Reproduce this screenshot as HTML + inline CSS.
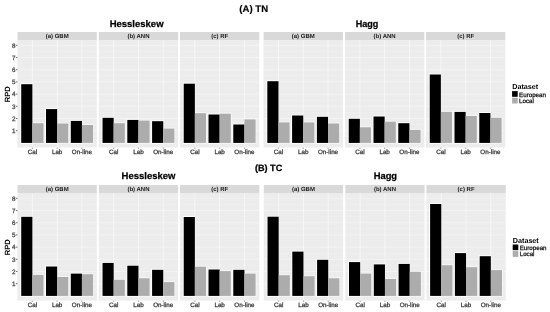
<!DOCTYPE html><html><head><meta charset="utf-8"><style>html,body{margin:0;padding:0;background:#fff;}svg{display:block;}text{font-family:"Liberation Sans",Arial,sans-serif;text-rendering:geometricPrecision;}</style></head><body>
<svg width="550" height="312" viewBox="0 0 550 312">
<defs><filter id="bl" filterUnits="userSpaceOnUse" x="0" y="0" width="550" height="312"><feGaussianBlur stdDeviation="0.3"/></filter></defs>
<g filter="url(#bl)">
<rect width="550" height="312" fill="#fff"/>
<rect x="17.5" y="32.0" width="79.3" height="8.0" fill="#D9D9D9"/>
<text x="57.15" y="38.05" font-size="6.0" font-weight="bold" fill="#1A1A1A" text-anchor="middle">(a) GBM</text>
<rect x="17.5" y="40.0" width="79.3" height="107.50" fill="#ECECEC"/>
<line x1="17.5" x2="96.80" y1="136.80" y2="136.80" stroke="#fff" stroke-width="0.6" stroke-opacity="0.25"/>
<line x1="17.5" x2="96.80" y1="124.60" y2="124.60" stroke="#fff" stroke-width="0.6" stroke-opacity="0.25"/>
<line x1="17.5" x2="96.80" y1="112.40" y2="112.40" stroke="#fff" stroke-width="0.6" stroke-opacity="0.25"/>
<line x1="17.5" x2="96.80" y1="100.20" y2="100.20" stroke="#fff" stroke-width="0.6" stroke-opacity="0.25"/>
<line x1="17.5" x2="96.80" y1="88.00" y2="88.00" stroke="#fff" stroke-width="0.6" stroke-opacity="0.25"/>
<line x1="17.5" x2="96.80" y1="75.80" y2="75.80" stroke="#fff" stroke-width="0.6" stroke-opacity="0.25"/>
<line x1="17.5" x2="96.80" y1="63.60" y2="63.60" stroke="#fff" stroke-width="0.6" stroke-opacity="0.25"/>
<line x1="17.5" x2="96.80" y1="51.40" y2="51.40" stroke="#fff" stroke-width="0.6" stroke-opacity="0.25"/>
<line x1="17.5" x2="96.80" y1="130.70" y2="130.70" stroke="#fff" stroke-width="0.8" stroke-opacity="0.45"/>
<line x1="17.5" x2="96.80" y1="118.50" y2="118.50" stroke="#fff" stroke-width="0.8" stroke-opacity="0.45"/>
<line x1="17.5" x2="96.80" y1="106.30" y2="106.30" stroke="#fff" stroke-width="0.8" stroke-opacity="0.45"/>
<line x1="17.5" x2="96.80" y1="94.10" y2="94.10" stroke="#fff" stroke-width="0.8" stroke-opacity="0.45"/>
<line x1="17.5" x2="96.80" y1="81.90" y2="81.90" stroke="#fff" stroke-width="0.8" stroke-opacity="0.45"/>
<line x1="17.5" x2="96.80" y1="69.70" y2="69.70" stroke="#fff" stroke-width="0.8" stroke-opacity="0.45"/>
<line x1="17.5" x2="96.80" y1="57.50" y2="57.50" stroke="#fff" stroke-width="0.8" stroke-opacity="0.45"/>
<line x1="17.5" x2="96.80" y1="45.30" y2="45.30" stroke="#fff" stroke-width="0.8" stroke-opacity="0.45"/>
<line x1="32.37" x2="32.37" y1="40.0" y2="147.5" stroke="#fff" stroke-width="1.0" stroke-opacity="0.55"/>
<line x1="57.15" x2="57.15" y1="40.0" y2="147.5" stroke="#fff" stroke-width="1.0" stroke-opacity="0.55"/>
<line x1="81.93" x2="81.93" y1="40.0" y2="147.5" stroke="#fff" stroke-width="1.0" stroke-opacity="0.55"/>
<rect x="20.32" y="83.30" width="12.05" height="60.50" fill="#fff"/>
<rect x="32.37" y="122.30" width="12.05" height="21.50" fill="#fff" fill-opacity="0.5"/>
<rect x="21.22" y="84.20" width="11.15" height="58.70" fill="#000"/>
<rect x="32.37" y="123.20" width="11.15" height="19.70" fill="#ACACAC"/>
<rect x="45.10" y="108.20" width="12.05" height="35.60" fill="#fff"/>
<rect x="57.15" y="122.60" width="12.05" height="21.20" fill="#fff" fill-opacity="0.5"/>
<rect x="46.00" y="109.10" width="11.15" height="33.80" fill="#000"/>
<rect x="57.15" y="123.50" width="11.15" height="19.40" fill="#ACACAC"/>
<rect x="69.88" y="120.00" width="12.05" height="23.80" fill="#fff"/>
<rect x="81.93" y="124.10" width="12.05" height="19.70" fill="#fff" fill-opacity="0.5"/>
<rect x="70.78" y="120.90" width="11.15" height="22.00" fill="#000"/>
<rect x="81.93" y="125.00" width="11.15" height="17.90" fill="#ACACAC"/>
<line x1="32.37" x2="32.37" y1="147.5" y2="148.90" stroke="#555" stroke-width="0.5"/>
<text x="32.37" y="154.40" font-size="6.25" fill="#444" stroke="#444" stroke-width="0.3" text-anchor="middle">Cal</text>
<line x1="57.15" x2="57.15" y1="147.5" y2="148.90" stroke="#555" stroke-width="0.5"/>
<text x="57.15" y="154.40" font-size="6.25" fill="#444" stroke="#444" stroke-width="0.3" text-anchor="middle">Lab</text>
<line x1="81.93" x2="81.93" y1="147.5" y2="148.90" stroke="#555" stroke-width="0.5"/>
<text x="81.93" y="154.40" font-size="6.25" fill="#444" stroke="#444" stroke-width="0.3" text-anchor="middle">On-line</text>
<rect x="98.8" y="32.0" width="79.3" height="8.0" fill="#D9D9D9"/>
<text x="138.45" y="38.05" font-size="6.0" font-weight="bold" fill="#1A1A1A" text-anchor="middle">(b) ANN</text>
<rect x="98.8" y="40.0" width="79.3" height="107.50" fill="#ECECEC"/>
<line x1="98.8" x2="178.10" y1="136.80" y2="136.80" stroke="#fff" stroke-width="0.6" stroke-opacity="0.25"/>
<line x1="98.8" x2="178.10" y1="124.60" y2="124.60" stroke="#fff" stroke-width="0.6" stroke-opacity="0.25"/>
<line x1="98.8" x2="178.10" y1="112.40" y2="112.40" stroke="#fff" stroke-width="0.6" stroke-opacity="0.25"/>
<line x1="98.8" x2="178.10" y1="100.20" y2="100.20" stroke="#fff" stroke-width="0.6" stroke-opacity="0.25"/>
<line x1="98.8" x2="178.10" y1="88.00" y2="88.00" stroke="#fff" stroke-width="0.6" stroke-opacity="0.25"/>
<line x1="98.8" x2="178.10" y1="75.80" y2="75.80" stroke="#fff" stroke-width="0.6" stroke-opacity="0.25"/>
<line x1="98.8" x2="178.10" y1="63.60" y2="63.60" stroke="#fff" stroke-width="0.6" stroke-opacity="0.25"/>
<line x1="98.8" x2="178.10" y1="51.40" y2="51.40" stroke="#fff" stroke-width="0.6" stroke-opacity="0.25"/>
<line x1="98.8" x2="178.10" y1="130.70" y2="130.70" stroke="#fff" stroke-width="0.8" stroke-opacity="0.45"/>
<line x1="98.8" x2="178.10" y1="118.50" y2="118.50" stroke="#fff" stroke-width="0.8" stroke-opacity="0.45"/>
<line x1="98.8" x2="178.10" y1="106.30" y2="106.30" stroke="#fff" stroke-width="0.8" stroke-opacity="0.45"/>
<line x1="98.8" x2="178.10" y1="94.10" y2="94.10" stroke="#fff" stroke-width="0.8" stroke-opacity="0.45"/>
<line x1="98.8" x2="178.10" y1="81.90" y2="81.90" stroke="#fff" stroke-width="0.8" stroke-opacity="0.45"/>
<line x1="98.8" x2="178.10" y1="69.70" y2="69.70" stroke="#fff" stroke-width="0.8" stroke-opacity="0.45"/>
<line x1="98.8" x2="178.10" y1="57.50" y2="57.50" stroke="#fff" stroke-width="0.8" stroke-opacity="0.45"/>
<line x1="98.8" x2="178.10" y1="45.30" y2="45.30" stroke="#fff" stroke-width="0.8" stroke-opacity="0.45"/>
<line x1="113.67" x2="113.67" y1="40.0" y2="147.5" stroke="#fff" stroke-width="1.0" stroke-opacity="0.55"/>
<line x1="138.45" x2="138.45" y1="40.0" y2="147.5" stroke="#fff" stroke-width="1.0" stroke-opacity="0.55"/>
<line x1="163.23" x2="163.23" y1="40.0" y2="147.5" stroke="#fff" stroke-width="1.0" stroke-opacity="0.55"/>
<rect x="101.62" y="116.90" width="12.05" height="26.90" fill="#fff"/>
<rect x="113.67" y="122.30" width="12.05" height="21.50" fill="#fff" fill-opacity="0.5"/>
<rect x="102.52" y="117.80" width="11.15" height="25.10" fill="#000"/>
<rect x="113.67" y="123.20" width="11.15" height="19.70" fill="#ACACAC"/>
<rect x="126.40" y="119.00" width="12.05" height="24.80" fill="#fff"/>
<rect x="138.45" y="119.70" width="12.05" height="24.10" fill="#fff" fill-opacity="0.5"/>
<rect x="127.30" y="119.90" width="11.15" height="23.00" fill="#000"/>
<rect x="138.45" y="120.60" width="11.15" height="22.30" fill="#ACACAC"/>
<rect x="151.18" y="120.30" width="12.05" height="23.50" fill="#fff"/>
<rect x="163.23" y="127.70" width="12.05" height="16.10" fill="#fff" fill-opacity="0.5"/>
<rect x="152.08" y="121.20" width="11.15" height="21.70" fill="#000"/>
<rect x="163.23" y="128.60" width="11.15" height="14.30" fill="#ACACAC"/>
<line x1="113.67" x2="113.67" y1="147.5" y2="148.90" stroke="#555" stroke-width="0.5"/>
<text x="113.67" y="154.40" font-size="6.25" fill="#444" stroke="#444" stroke-width="0.3" text-anchor="middle">Cal</text>
<line x1="138.45" x2="138.45" y1="147.5" y2="148.90" stroke="#555" stroke-width="0.5"/>
<text x="138.45" y="154.40" font-size="6.25" fill="#444" stroke="#444" stroke-width="0.3" text-anchor="middle">Lab</text>
<line x1="163.23" x2="163.23" y1="147.5" y2="148.90" stroke="#555" stroke-width="0.5"/>
<text x="163.23" y="154.40" font-size="6.25" fill="#444" stroke="#444" stroke-width="0.3" text-anchor="middle">On-line</text>
<rect x="180.0" y="32.0" width="79.3" height="8.0" fill="#D9D9D9"/>
<text x="219.65" y="38.05" font-size="6.0" font-weight="bold" fill="#1A1A1A" text-anchor="middle">(c) RF</text>
<rect x="180.0" y="40.0" width="79.3" height="107.50" fill="#ECECEC"/>
<line x1="180.0" x2="259.30" y1="136.80" y2="136.80" stroke="#fff" stroke-width="0.6" stroke-opacity="0.25"/>
<line x1="180.0" x2="259.30" y1="124.60" y2="124.60" stroke="#fff" stroke-width="0.6" stroke-opacity="0.25"/>
<line x1="180.0" x2="259.30" y1="112.40" y2="112.40" stroke="#fff" stroke-width="0.6" stroke-opacity="0.25"/>
<line x1="180.0" x2="259.30" y1="100.20" y2="100.20" stroke="#fff" stroke-width="0.6" stroke-opacity="0.25"/>
<line x1="180.0" x2="259.30" y1="88.00" y2="88.00" stroke="#fff" stroke-width="0.6" stroke-opacity="0.25"/>
<line x1="180.0" x2="259.30" y1="75.80" y2="75.80" stroke="#fff" stroke-width="0.6" stroke-opacity="0.25"/>
<line x1="180.0" x2="259.30" y1="63.60" y2="63.60" stroke="#fff" stroke-width="0.6" stroke-opacity="0.25"/>
<line x1="180.0" x2="259.30" y1="51.40" y2="51.40" stroke="#fff" stroke-width="0.6" stroke-opacity="0.25"/>
<line x1="180.0" x2="259.30" y1="130.70" y2="130.70" stroke="#fff" stroke-width="0.8" stroke-opacity="0.45"/>
<line x1="180.0" x2="259.30" y1="118.50" y2="118.50" stroke="#fff" stroke-width="0.8" stroke-opacity="0.45"/>
<line x1="180.0" x2="259.30" y1="106.30" y2="106.30" stroke="#fff" stroke-width="0.8" stroke-opacity="0.45"/>
<line x1="180.0" x2="259.30" y1="94.10" y2="94.10" stroke="#fff" stroke-width="0.8" stroke-opacity="0.45"/>
<line x1="180.0" x2="259.30" y1="81.90" y2="81.90" stroke="#fff" stroke-width="0.8" stroke-opacity="0.45"/>
<line x1="180.0" x2="259.30" y1="69.70" y2="69.70" stroke="#fff" stroke-width="0.8" stroke-opacity="0.45"/>
<line x1="180.0" x2="259.30" y1="57.50" y2="57.50" stroke="#fff" stroke-width="0.8" stroke-opacity="0.45"/>
<line x1="180.0" x2="259.30" y1="45.30" y2="45.30" stroke="#fff" stroke-width="0.8" stroke-opacity="0.45"/>
<line x1="194.87" x2="194.87" y1="40.0" y2="147.5" stroke="#fff" stroke-width="1.0" stroke-opacity="0.55"/>
<line x1="219.65" x2="219.65" y1="40.0" y2="147.5" stroke="#fff" stroke-width="1.0" stroke-opacity="0.55"/>
<line x1="244.43" x2="244.43" y1="40.0" y2="147.5" stroke="#fff" stroke-width="1.0" stroke-opacity="0.55"/>
<rect x="182.82" y="82.80" width="12.05" height="61.00" fill="#fff"/>
<rect x="194.87" y="112.30" width="12.05" height="31.50" fill="#fff" fill-opacity="0.5"/>
<rect x="183.72" y="83.70" width="11.15" height="59.20" fill="#000"/>
<rect x="194.87" y="113.20" width="11.15" height="29.70" fill="#ACACAC"/>
<rect x="207.60" y="113.60" width="12.05" height="30.20" fill="#fff"/>
<rect x="219.65" y="112.80" width="12.05" height="31.00" fill="#fff" fill-opacity="0.5"/>
<rect x="208.50" y="114.50" width="11.15" height="28.40" fill="#000"/>
<rect x="219.65" y="113.70" width="11.15" height="29.20" fill="#ACACAC"/>
<rect x="232.38" y="123.60" width="12.05" height="20.20" fill="#fff"/>
<rect x="244.43" y="118.50" width="12.05" height="25.30" fill="#fff" fill-opacity="0.5"/>
<rect x="233.28" y="124.50" width="11.15" height="18.40" fill="#000"/>
<rect x="244.43" y="119.40" width="11.15" height="23.50" fill="#ACACAC"/>
<line x1="194.87" x2="194.87" y1="147.5" y2="148.90" stroke="#555" stroke-width="0.5"/>
<text x="194.87" y="154.40" font-size="6.25" fill="#444" stroke="#444" stroke-width="0.3" text-anchor="middle">Cal</text>
<line x1="219.65" x2="219.65" y1="147.5" y2="148.90" stroke="#555" stroke-width="0.5"/>
<text x="219.65" y="154.40" font-size="6.25" fill="#444" stroke="#444" stroke-width="0.3" text-anchor="middle">Lab</text>
<line x1="244.43" x2="244.43" y1="147.5" y2="148.90" stroke="#555" stroke-width="0.5"/>
<text x="244.43" y="154.40" font-size="6.25" fill="#444" stroke="#444" stroke-width="0.3" text-anchor="middle">On-line</text>
<rect x="263.6" y="32.0" width="79.3" height="8.0" fill="#D9D9D9"/>
<text x="303.25" y="38.05" font-size="6.0" font-weight="bold" fill="#1A1A1A" text-anchor="middle">(a) GBM</text>
<rect x="263.6" y="40.0" width="79.3" height="107.50" fill="#ECECEC"/>
<line x1="263.6" x2="342.90" y1="136.80" y2="136.80" stroke="#fff" stroke-width="0.6" stroke-opacity="0.25"/>
<line x1="263.6" x2="342.90" y1="124.60" y2="124.60" stroke="#fff" stroke-width="0.6" stroke-opacity="0.25"/>
<line x1="263.6" x2="342.90" y1="112.40" y2="112.40" stroke="#fff" stroke-width="0.6" stroke-opacity="0.25"/>
<line x1="263.6" x2="342.90" y1="100.20" y2="100.20" stroke="#fff" stroke-width="0.6" stroke-opacity="0.25"/>
<line x1="263.6" x2="342.90" y1="88.00" y2="88.00" stroke="#fff" stroke-width="0.6" stroke-opacity="0.25"/>
<line x1="263.6" x2="342.90" y1="75.80" y2="75.80" stroke="#fff" stroke-width="0.6" stroke-opacity="0.25"/>
<line x1="263.6" x2="342.90" y1="63.60" y2="63.60" stroke="#fff" stroke-width="0.6" stroke-opacity="0.25"/>
<line x1="263.6" x2="342.90" y1="51.40" y2="51.40" stroke="#fff" stroke-width="0.6" stroke-opacity="0.25"/>
<line x1="263.6" x2="342.90" y1="130.70" y2="130.70" stroke="#fff" stroke-width="0.8" stroke-opacity="0.45"/>
<line x1="263.6" x2="342.90" y1="118.50" y2="118.50" stroke="#fff" stroke-width="0.8" stroke-opacity="0.45"/>
<line x1="263.6" x2="342.90" y1="106.30" y2="106.30" stroke="#fff" stroke-width="0.8" stroke-opacity="0.45"/>
<line x1="263.6" x2="342.90" y1="94.10" y2="94.10" stroke="#fff" stroke-width="0.8" stroke-opacity="0.45"/>
<line x1="263.6" x2="342.90" y1="81.90" y2="81.90" stroke="#fff" stroke-width="0.8" stroke-opacity="0.45"/>
<line x1="263.6" x2="342.90" y1="69.70" y2="69.70" stroke="#fff" stroke-width="0.8" stroke-opacity="0.45"/>
<line x1="263.6" x2="342.90" y1="57.50" y2="57.50" stroke="#fff" stroke-width="0.8" stroke-opacity="0.45"/>
<line x1="263.6" x2="342.90" y1="45.30" y2="45.30" stroke="#fff" stroke-width="0.8" stroke-opacity="0.45"/>
<line x1="278.47" x2="278.47" y1="40.0" y2="147.5" stroke="#fff" stroke-width="1.0" stroke-opacity="0.55"/>
<line x1="303.25" x2="303.25" y1="40.0" y2="147.5" stroke="#fff" stroke-width="1.0" stroke-opacity="0.55"/>
<line x1="328.03" x2="328.03" y1="40.0" y2="147.5" stroke="#fff" stroke-width="1.0" stroke-opacity="0.55"/>
<rect x="266.42" y="80.30" width="12.05" height="63.50" fill="#fff"/>
<rect x="278.47" y="121.50" width="12.05" height="22.30" fill="#fff" fill-opacity="0.5"/>
<rect x="267.32" y="81.20" width="11.15" height="61.70" fill="#000"/>
<rect x="278.47" y="122.40" width="11.15" height="20.50" fill="#ACACAC"/>
<rect x="291.20" y="114.60" width="12.05" height="29.20" fill="#fff"/>
<rect x="303.25" y="121.50" width="12.05" height="22.30" fill="#fff" fill-opacity="0.5"/>
<rect x="292.10" y="115.50" width="11.15" height="27.40" fill="#000"/>
<rect x="303.25" y="122.40" width="11.15" height="20.50" fill="#ACACAC"/>
<rect x="315.98" y="115.90" width="12.05" height="27.90" fill="#fff"/>
<rect x="328.03" y="122.60" width="12.05" height="21.20" fill="#fff" fill-opacity="0.5"/>
<rect x="316.88" y="116.80" width="11.15" height="26.10" fill="#000"/>
<rect x="328.03" y="123.50" width="11.15" height="19.40" fill="#ACACAC"/>
<line x1="278.47" x2="278.47" y1="147.5" y2="148.90" stroke="#555" stroke-width="0.5"/>
<text x="278.47" y="154.40" font-size="6.25" fill="#444" stroke="#444" stroke-width="0.3" text-anchor="middle">Cal</text>
<line x1="303.25" x2="303.25" y1="147.5" y2="148.90" stroke="#555" stroke-width="0.5"/>
<text x="303.25" y="154.40" font-size="6.25" fill="#444" stroke="#444" stroke-width="0.3" text-anchor="middle">Lab</text>
<line x1="328.03" x2="328.03" y1="147.5" y2="148.90" stroke="#555" stroke-width="0.5"/>
<text x="328.03" y="154.40" font-size="6.25" fill="#444" stroke="#444" stroke-width="0.3" text-anchor="middle">On-line</text>
<rect x="345.0" y="32.0" width="79.3" height="8.0" fill="#D9D9D9"/>
<text x="384.65" y="38.05" font-size="6.0" font-weight="bold" fill="#1A1A1A" text-anchor="middle">(b) ANN</text>
<rect x="345.0" y="40.0" width="79.3" height="107.50" fill="#ECECEC"/>
<line x1="345.0" x2="424.30" y1="136.80" y2="136.80" stroke="#fff" stroke-width="0.6" stroke-opacity="0.25"/>
<line x1="345.0" x2="424.30" y1="124.60" y2="124.60" stroke="#fff" stroke-width="0.6" stroke-opacity="0.25"/>
<line x1="345.0" x2="424.30" y1="112.40" y2="112.40" stroke="#fff" stroke-width="0.6" stroke-opacity="0.25"/>
<line x1="345.0" x2="424.30" y1="100.20" y2="100.20" stroke="#fff" stroke-width="0.6" stroke-opacity="0.25"/>
<line x1="345.0" x2="424.30" y1="88.00" y2="88.00" stroke="#fff" stroke-width="0.6" stroke-opacity="0.25"/>
<line x1="345.0" x2="424.30" y1="75.80" y2="75.80" stroke="#fff" stroke-width="0.6" stroke-opacity="0.25"/>
<line x1="345.0" x2="424.30" y1="63.60" y2="63.60" stroke="#fff" stroke-width="0.6" stroke-opacity="0.25"/>
<line x1="345.0" x2="424.30" y1="51.40" y2="51.40" stroke="#fff" stroke-width="0.6" stroke-opacity="0.25"/>
<line x1="345.0" x2="424.30" y1="130.70" y2="130.70" stroke="#fff" stroke-width="0.8" stroke-opacity="0.45"/>
<line x1="345.0" x2="424.30" y1="118.50" y2="118.50" stroke="#fff" stroke-width="0.8" stroke-opacity="0.45"/>
<line x1="345.0" x2="424.30" y1="106.30" y2="106.30" stroke="#fff" stroke-width="0.8" stroke-opacity="0.45"/>
<line x1="345.0" x2="424.30" y1="94.10" y2="94.10" stroke="#fff" stroke-width="0.8" stroke-opacity="0.45"/>
<line x1="345.0" x2="424.30" y1="81.90" y2="81.90" stroke="#fff" stroke-width="0.8" stroke-opacity="0.45"/>
<line x1="345.0" x2="424.30" y1="69.70" y2="69.70" stroke="#fff" stroke-width="0.8" stroke-opacity="0.45"/>
<line x1="345.0" x2="424.30" y1="57.50" y2="57.50" stroke="#fff" stroke-width="0.8" stroke-opacity="0.45"/>
<line x1="345.0" x2="424.30" y1="45.30" y2="45.30" stroke="#fff" stroke-width="0.8" stroke-opacity="0.45"/>
<line x1="359.87" x2="359.87" y1="40.0" y2="147.5" stroke="#fff" stroke-width="1.0" stroke-opacity="0.55"/>
<line x1="384.65" x2="384.65" y1="40.0" y2="147.5" stroke="#fff" stroke-width="1.0" stroke-opacity="0.55"/>
<line x1="409.43" x2="409.43" y1="40.0" y2="147.5" stroke="#fff" stroke-width="1.0" stroke-opacity="0.55"/>
<rect x="347.82" y="117.90" width="12.05" height="25.90" fill="#fff"/>
<rect x="359.87" y="126.40" width="12.05" height="17.40" fill="#fff" fill-opacity="0.5"/>
<rect x="348.72" y="118.80" width="11.15" height="24.10" fill="#000"/>
<rect x="359.87" y="127.30" width="11.15" height="15.60" fill="#ACACAC"/>
<rect x="372.60" y="115.60" width="12.05" height="28.20" fill="#fff"/>
<rect x="384.65" y="120.80" width="12.05" height="23.00" fill="#fff" fill-opacity="0.5"/>
<rect x="373.50" y="116.50" width="11.15" height="26.40" fill="#000"/>
<rect x="384.65" y="121.70" width="11.15" height="21.20" fill="#ACACAC"/>
<rect x="397.38" y="122.30" width="12.05" height="21.50" fill="#fff"/>
<rect x="409.43" y="129.00" width="12.05" height="14.80" fill="#fff" fill-opacity="0.5"/>
<rect x="398.28" y="123.20" width="11.15" height="19.70" fill="#000"/>
<rect x="409.43" y="129.90" width="11.15" height="13.00" fill="#ACACAC"/>
<line x1="359.87" x2="359.87" y1="147.5" y2="148.90" stroke="#555" stroke-width="0.5"/>
<text x="359.87" y="154.40" font-size="6.25" fill="#444" stroke="#444" stroke-width="0.3" text-anchor="middle">Cal</text>
<line x1="384.65" x2="384.65" y1="147.5" y2="148.90" stroke="#555" stroke-width="0.5"/>
<text x="384.65" y="154.40" font-size="6.25" fill="#444" stroke="#444" stroke-width="0.3" text-anchor="middle">Lab</text>
<line x1="409.43" x2="409.43" y1="147.5" y2="148.90" stroke="#555" stroke-width="0.5"/>
<text x="409.43" y="154.40" font-size="6.25" fill="#444" stroke="#444" stroke-width="0.3" text-anchor="middle">On-line</text>
<rect x="426.0" y="32.0" width="79.3" height="8.0" fill="#D9D9D9"/>
<text x="465.65" y="38.05" font-size="6.0" font-weight="bold" fill="#1A1A1A" text-anchor="middle">(c) RF</text>
<rect x="426.0" y="40.0" width="79.3" height="107.50" fill="#ECECEC"/>
<line x1="426.0" x2="505.30" y1="136.80" y2="136.80" stroke="#fff" stroke-width="0.6" stroke-opacity="0.25"/>
<line x1="426.0" x2="505.30" y1="124.60" y2="124.60" stroke="#fff" stroke-width="0.6" stroke-opacity="0.25"/>
<line x1="426.0" x2="505.30" y1="112.40" y2="112.40" stroke="#fff" stroke-width="0.6" stroke-opacity="0.25"/>
<line x1="426.0" x2="505.30" y1="100.20" y2="100.20" stroke="#fff" stroke-width="0.6" stroke-opacity="0.25"/>
<line x1="426.0" x2="505.30" y1="88.00" y2="88.00" stroke="#fff" stroke-width="0.6" stroke-opacity="0.25"/>
<line x1="426.0" x2="505.30" y1="75.80" y2="75.80" stroke="#fff" stroke-width="0.6" stroke-opacity="0.25"/>
<line x1="426.0" x2="505.30" y1="63.60" y2="63.60" stroke="#fff" stroke-width="0.6" stroke-opacity="0.25"/>
<line x1="426.0" x2="505.30" y1="51.40" y2="51.40" stroke="#fff" stroke-width="0.6" stroke-opacity="0.25"/>
<line x1="426.0" x2="505.30" y1="130.70" y2="130.70" stroke="#fff" stroke-width="0.8" stroke-opacity="0.45"/>
<line x1="426.0" x2="505.30" y1="118.50" y2="118.50" stroke="#fff" stroke-width="0.8" stroke-opacity="0.45"/>
<line x1="426.0" x2="505.30" y1="106.30" y2="106.30" stroke="#fff" stroke-width="0.8" stroke-opacity="0.45"/>
<line x1="426.0" x2="505.30" y1="94.10" y2="94.10" stroke="#fff" stroke-width="0.8" stroke-opacity="0.45"/>
<line x1="426.0" x2="505.30" y1="81.90" y2="81.90" stroke="#fff" stroke-width="0.8" stroke-opacity="0.45"/>
<line x1="426.0" x2="505.30" y1="69.70" y2="69.70" stroke="#fff" stroke-width="0.8" stroke-opacity="0.45"/>
<line x1="426.0" x2="505.30" y1="57.50" y2="57.50" stroke="#fff" stroke-width="0.8" stroke-opacity="0.45"/>
<line x1="426.0" x2="505.30" y1="45.30" y2="45.30" stroke="#fff" stroke-width="0.8" stroke-opacity="0.45"/>
<line x1="440.87" x2="440.87" y1="40.0" y2="147.5" stroke="#fff" stroke-width="1.0" stroke-opacity="0.55"/>
<line x1="465.65" x2="465.65" y1="40.0" y2="147.5" stroke="#fff" stroke-width="1.0" stroke-opacity="0.55"/>
<line x1="490.43" x2="490.43" y1="40.0" y2="147.5" stroke="#fff" stroke-width="1.0" stroke-opacity="0.55"/>
<rect x="428.82" y="73.60" width="12.05" height="70.20" fill="#fff"/>
<rect x="440.87" y="111.00" width="12.05" height="32.80" fill="#fff" fill-opacity="0.5"/>
<rect x="429.72" y="74.50" width="11.15" height="68.40" fill="#000"/>
<rect x="440.87" y="111.90" width="11.15" height="31.00" fill="#ACACAC"/>
<rect x="453.60" y="111.00" width="12.05" height="32.80" fill="#fff"/>
<rect x="465.65" y="115.10" width="12.05" height="28.70" fill="#fff" fill-opacity="0.5"/>
<rect x="454.50" y="111.90" width="11.15" height="31.00" fill="#000"/>
<rect x="465.65" y="116.00" width="11.15" height="26.90" fill="#ACACAC"/>
<rect x="478.38" y="112.10" width="12.05" height="31.70" fill="#fff"/>
<rect x="490.43" y="116.90" width="12.05" height="26.90" fill="#fff" fill-opacity="0.5"/>
<rect x="479.28" y="113.00" width="11.15" height="29.90" fill="#000"/>
<rect x="490.43" y="117.80" width="11.15" height="25.10" fill="#ACACAC"/>
<line x1="440.87" x2="440.87" y1="147.5" y2="148.90" stroke="#555" stroke-width="0.5"/>
<text x="440.87" y="154.40" font-size="6.25" fill="#444" stroke="#444" stroke-width="0.3" text-anchor="middle">Cal</text>
<line x1="465.65" x2="465.65" y1="147.5" y2="148.90" stroke="#555" stroke-width="0.5"/>
<text x="465.65" y="154.40" font-size="6.25" fill="#444" stroke="#444" stroke-width="0.3" text-anchor="middle">Lab</text>
<line x1="490.43" x2="490.43" y1="147.5" y2="148.90" stroke="#555" stroke-width="0.5"/>
<text x="490.43" y="154.40" font-size="6.25" fill="#444" stroke="#444" stroke-width="0.3" text-anchor="middle">On-line</text>
<line x1="15.9" x2="17.5" y1="130.70" y2="130.70" stroke="#333" stroke-width="0.7"/>
<text x="15.40" y="132.95" font-size="6.3" fill="#444" stroke="#444" stroke-width="0.25" text-anchor="end">1</text>
<line x1="15.9" x2="17.5" y1="118.50" y2="118.50" stroke="#333" stroke-width="0.7"/>
<text x="15.40" y="120.75" font-size="6.3" fill="#444" stroke="#444" stroke-width="0.25" text-anchor="end">2</text>
<line x1="15.9" x2="17.5" y1="106.30" y2="106.30" stroke="#333" stroke-width="0.7"/>
<text x="15.40" y="108.55" font-size="6.3" fill="#444" stroke="#444" stroke-width="0.25" text-anchor="end">3</text>
<line x1="15.9" x2="17.5" y1="94.10" y2="94.10" stroke="#333" stroke-width="0.7"/>
<text x="15.40" y="96.35" font-size="6.3" fill="#444" stroke="#444" stroke-width="0.25" text-anchor="end">4</text>
<line x1="15.9" x2="17.5" y1="81.90" y2="81.90" stroke="#333" stroke-width="0.7"/>
<text x="15.40" y="84.15" font-size="6.3" fill="#444" stroke="#444" stroke-width="0.25" text-anchor="end">5</text>
<line x1="15.9" x2="17.5" y1="69.70" y2="69.70" stroke="#333" stroke-width="0.7"/>
<text x="15.40" y="71.95" font-size="6.3" fill="#444" stroke="#444" stroke-width="0.25" text-anchor="end">6</text>
<line x1="15.9" x2="17.5" y1="57.50" y2="57.50" stroke="#333" stroke-width="0.7"/>
<text x="15.40" y="59.75" font-size="6.3" fill="#444" stroke="#444" stroke-width="0.25" text-anchor="end">7</text>
<line x1="15.9" x2="17.5" y1="45.30" y2="45.30" stroke="#333" stroke-width="0.7"/>
<text x="15.40" y="47.55" font-size="6.3" fill="#444" stroke="#444" stroke-width="0.25" text-anchor="end">8</text>
<text transform="translate(10.4,94.20) rotate(-90)" font-size="7.6" font-weight="bold" fill="#000" text-anchor="middle">RPD</text>
<text x="512.20" y="89.10" font-size="7.2" font-weight="bold" fill="#000">Dataset</text>
<rect x="512.10" y="91.10" width="5.6" height="5.7" fill="#000"/>
<rect x="512.10" y="97.70" width="5.6" height="5.8" fill="#ACACAC"/>
<text x="519.10" y="96.60" font-size="6.2" fill="#111" stroke="#111" stroke-width="0.25">European</text>
<text x="519.10" y="102.70" font-size="6.2" fill="#111" stroke="#111" stroke-width="0.25">Local</text>
<rect x="17.5" y="185.0" width="79.3" height="8.0" fill="#D9D9D9"/>
<text x="57.15" y="191.05" font-size="6.0" font-weight="bold" fill="#1A1A1A" text-anchor="middle">(a) GBM</text>
<rect x="17.5" y="193.0" width="79.3" height="107.50" fill="#ECECEC"/>
<line x1="17.5" x2="96.80" y1="289.80" y2="289.80" stroke="#fff" stroke-width="0.6" stroke-opacity="0.25"/>
<line x1="17.5" x2="96.80" y1="277.60" y2="277.60" stroke="#fff" stroke-width="0.6" stroke-opacity="0.25"/>
<line x1="17.5" x2="96.80" y1="265.40" y2="265.40" stroke="#fff" stroke-width="0.6" stroke-opacity="0.25"/>
<line x1="17.5" x2="96.80" y1="253.20" y2="253.20" stroke="#fff" stroke-width="0.6" stroke-opacity="0.25"/>
<line x1="17.5" x2="96.80" y1="241.00" y2="241.00" stroke="#fff" stroke-width="0.6" stroke-opacity="0.25"/>
<line x1="17.5" x2="96.80" y1="228.80" y2="228.80" stroke="#fff" stroke-width="0.6" stroke-opacity="0.25"/>
<line x1="17.5" x2="96.80" y1="216.60" y2="216.60" stroke="#fff" stroke-width="0.6" stroke-opacity="0.25"/>
<line x1="17.5" x2="96.80" y1="204.40" y2="204.40" stroke="#fff" stroke-width="0.6" stroke-opacity="0.25"/>
<line x1="17.5" x2="96.80" y1="283.70" y2="283.70" stroke="#fff" stroke-width="0.8" stroke-opacity="0.45"/>
<line x1="17.5" x2="96.80" y1="271.50" y2="271.50" stroke="#fff" stroke-width="0.8" stroke-opacity="0.45"/>
<line x1="17.5" x2="96.80" y1="259.30" y2="259.30" stroke="#fff" stroke-width="0.8" stroke-opacity="0.45"/>
<line x1="17.5" x2="96.80" y1="247.10" y2="247.10" stroke="#fff" stroke-width="0.8" stroke-opacity="0.45"/>
<line x1="17.5" x2="96.80" y1="234.90" y2="234.90" stroke="#fff" stroke-width="0.8" stroke-opacity="0.45"/>
<line x1="17.5" x2="96.80" y1="222.70" y2="222.70" stroke="#fff" stroke-width="0.8" stroke-opacity="0.45"/>
<line x1="17.5" x2="96.80" y1="210.50" y2="210.50" stroke="#fff" stroke-width="0.8" stroke-opacity="0.45"/>
<line x1="17.5" x2="96.80" y1="198.30" y2="198.30" stroke="#fff" stroke-width="0.8" stroke-opacity="0.45"/>
<line x1="32.37" x2="32.37" y1="193.0" y2="300.5" stroke="#fff" stroke-width="1.0" stroke-opacity="0.55"/>
<line x1="57.15" x2="57.15" y1="193.0" y2="300.5" stroke="#fff" stroke-width="1.0" stroke-opacity="0.55"/>
<line x1="81.93" x2="81.93" y1="193.0" y2="300.5" stroke="#fff" stroke-width="1.0" stroke-opacity="0.55"/>
<rect x="20.32" y="215.90" width="12.05" height="80.90" fill="#fff"/>
<rect x="32.37" y="274.00" width="12.05" height="22.80" fill="#fff" fill-opacity="0.5"/>
<rect x="21.22" y="216.80" width="11.15" height="79.10" fill="#000"/>
<rect x="32.37" y="274.90" width="11.15" height="21.00" fill="#ACACAC"/>
<rect x="45.10" y="265.60" width="12.05" height="31.20" fill="#fff"/>
<rect x="57.15" y="276.10" width="12.05" height="20.70" fill="#fff" fill-opacity="0.5"/>
<rect x="46.00" y="266.50" width="11.15" height="29.40" fill="#000"/>
<rect x="57.15" y="277.00" width="11.15" height="18.90" fill="#ACACAC"/>
<rect x="69.88" y="272.70" width="12.05" height="24.10" fill="#fff"/>
<rect x="81.93" y="273.30" width="12.05" height="23.50" fill="#fff" fill-opacity="0.5"/>
<rect x="70.78" y="273.60" width="11.15" height="22.30" fill="#000"/>
<rect x="81.93" y="274.20" width="11.15" height="21.70" fill="#ACACAC"/>
<line x1="32.37" x2="32.37" y1="300.5" y2="301.90" stroke="#555" stroke-width="0.5"/>
<text x="32.37" y="307.40" font-size="6.25" fill="#444" stroke="#444" stroke-width="0.3" text-anchor="middle">Cal</text>
<line x1="57.15" x2="57.15" y1="300.5" y2="301.90" stroke="#555" stroke-width="0.5"/>
<text x="57.15" y="307.40" font-size="6.25" fill="#444" stroke="#444" stroke-width="0.3" text-anchor="middle">Lab</text>
<line x1="81.93" x2="81.93" y1="300.5" y2="301.90" stroke="#555" stroke-width="0.5"/>
<text x="81.93" y="307.40" font-size="6.25" fill="#444" stroke="#444" stroke-width="0.3" text-anchor="middle">On-line</text>
<rect x="98.8" y="185.0" width="79.3" height="8.0" fill="#D9D9D9"/>
<text x="138.45" y="191.05" font-size="6.0" font-weight="bold" fill="#1A1A1A" text-anchor="middle">(b) ANN</text>
<rect x="98.8" y="193.0" width="79.3" height="107.50" fill="#ECECEC"/>
<line x1="98.8" x2="178.10" y1="289.80" y2="289.80" stroke="#fff" stroke-width="0.6" stroke-opacity="0.25"/>
<line x1="98.8" x2="178.10" y1="277.60" y2="277.60" stroke="#fff" stroke-width="0.6" stroke-opacity="0.25"/>
<line x1="98.8" x2="178.10" y1="265.40" y2="265.40" stroke="#fff" stroke-width="0.6" stroke-opacity="0.25"/>
<line x1="98.8" x2="178.10" y1="253.20" y2="253.20" stroke="#fff" stroke-width="0.6" stroke-opacity="0.25"/>
<line x1="98.8" x2="178.10" y1="241.00" y2="241.00" stroke="#fff" stroke-width="0.6" stroke-opacity="0.25"/>
<line x1="98.8" x2="178.10" y1="228.80" y2="228.80" stroke="#fff" stroke-width="0.6" stroke-opacity="0.25"/>
<line x1="98.8" x2="178.10" y1="216.60" y2="216.60" stroke="#fff" stroke-width="0.6" stroke-opacity="0.25"/>
<line x1="98.8" x2="178.10" y1="204.40" y2="204.40" stroke="#fff" stroke-width="0.6" stroke-opacity="0.25"/>
<line x1="98.8" x2="178.10" y1="283.70" y2="283.70" stroke="#fff" stroke-width="0.8" stroke-opacity="0.45"/>
<line x1="98.8" x2="178.10" y1="271.50" y2="271.50" stroke="#fff" stroke-width="0.8" stroke-opacity="0.45"/>
<line x1="98.8" x2="178.10" y1="259.30" y2="259.30" stroke="#fff" stroke-width="0.8" stroke-opacity="0.45"/>
<line x1="98.8" x2="178.10" y1="247.10" y2="247.10" stroke="#fff" stroke-width="0.8" stroke-opacity="0.45"/>
<line x1="98.8" x2="178.10" y1="234.90" y2="234.90" stroke="#fff" stroke-width="0.8" stroke-opacity="0.45"/>
<line x1="98.8" x2="178.10" y1="222.70" y2="222.70" stroke="#fff" stroke-width="0.8" stroke-opacity="0.45"/>
<line x1="98.8" x2="178.10" y1="210.50" y2="210.50" stroke="#fff" stroke-width="0.8" stroke-opacity="0.45"/>
<line x1="98.8" x2="178.10" y1="198.30" y2="198.30" stroke="#fff" stroke-width="0.8" stroke-opacity="0.45"/>
<line x1="113.67" x2="113.67" y1="193.0" y2="300.5" stroke="#fff" stroke-width="1.0" stroke-opacity="0.55"/>
<line x1="138.45" x2="138.45" y1="193.0" y2="300.5" stroke="#fff" stroke-width="1.0" stroke-opacity="0.55"/>
<line x1="163.23" x2="163.23" y1="193.0" y2="300.5" stroke="#fff" stroke-width="1.0" stroke-opacity="0.55"/>
<rect x="101.62" y="262.00" width="12.05" height="34.80" fill="#fff"/>
<rect x="113.67" y="278.90" width="12.05" height="17.90" fill="#fff" fill-opacity="0.5"/>
<rect x="102.52" y="262.90" width="11.15" height="33.00" fill="#000"/>
<rect x="113.67" y="279.80" width="11.15" height="16.10" fill="#ACACAC"/>
<rect x="126.40" y="264.80" width="12.05" height="32.00" fill="#fff"/>
<rect x="138.45" y="277.40" width="12.05" height="19.40" fill="#fff" fill-opacity="0.5"/>
<rect x="127.30" y="265.70" width="11.15" height="30.20" fill="#000"/>
<rect x="138.45" y="278.30" width="11.15" height="17.60" fill="#ACACAC"/>
<rect x="151.18" y="268.90" width="12.05" height="27.90" fill="#fff"/>
<rect x="163.23" y="281.20" width="12.05" height="15.60" fill="#fff" fill-opacity="0.5"/>
<rect x="152.08" y="269.80" width="11.15" height="26.10" fill="#000"/>
<rect x="163.23" y="282.10" width="11.15" height="13.80" fill="#ACACAC"/>
<line x1="113.67" x2="113.67" y1="300.5" y2="301.90" stroke="#555" stroke-width="0.5"/>
<text x="113.67" y="307.40" font-size="6.25" fill="#444" stroke="#444" stroke-width="0.3" text-anchor="middle">Cal</text>
<line x1="138.45" x2="138.45" y1="300.5" y2="301.90" stroke="#555" stroke-width="0.5"/>
<text x="138.45" y="307.40" font-size="6.25" fill="#444" stroke="#444" stroke-width="0.3" text-anchor="middle">Lab</text>
<line x1="163.23" x2="163.23" y1="300.5" y2="301.90" stroke="#555" stroke-width="0.5"/>
<text x="163.23" y="307.40" font-size="6.25" fill="#444" stroke="#444" stroke-width="0.3" text-anchor="middle">On-line</text>
<rect x="180.0" y="185.0" width="79.3" height="8.0" fill="#D9D9D9"/>
<text x="219.65" y="191.05" font-size="6.0" font-weight="bold" fill="#1A1A1A" text-anchor="middle">(c) RF</text>
<rect x="180.0" y="193.0" width="79.3" height="107.50" fill="#ECECEC"/>
<line x1="180.0" x2="259.30" y1="289.80" y2="289.80" stroke="#fff" stroke-width="0.6" stroke-opacity="0.25"/>
<line x1="180.0" x2="259.30" y1="277.60" y2="277.60" stroke="#fff" stroke-width="0.6" stroke-opacity="0.25"/>
<line x1="180.0" x2="259.30" y1="265.40" y2="265.40" stroke="#fff" stroke-width="0.6" stroke-opacity="0.25"/>
<line x1="180.0" x2="259.30" y1="253.20" y2="253.20" stroke="#fff" stroke-width="0.6" stroke-opacity="0.25"/>
<line x1="180.0" x2="259.30" y1="241.00" y2="241.00" stroke="#fff" stroke-width="0.6" stroke-opacity="0.25"/>
<line x1="180.0" x2="259.30" y1="228.80" y2="228.80" stroke="#fff" stroke-width="0.6" stroke-opacity="0.25"/>
<line x1="180.0" x2="259.30" y1="216.60" y2="216.60" stroke="#fff" stroke-width="0.6" stroke-opacity="0.25"/>
<line x1="180.0" x2="259.30" y1="204.40" y2="204.40" stroke="#fff" stroke-width="0.6" stroke-opacity="0.25"/>
<line x1="180.0" x2="259.30" y1="283.70" y2="283.70" stroke="#fff" stroke-width="0.8" stroke-opacity="0.45"/>
<line x1="180.0" x2="259.30" y1="271.50" y2="271.50" stroke="#fff" stroke-width="0.8" stroke-opacity="0.45"/>
<line x1="180.0" x2="259.30" y1="259.30" y2="259.30" stroke="#fff" stroke-width="0.8" stroke-opacity="0.45"/>
<line x1="180.0" x2="259.30" y1="247.10" y2="247.10" stroke="#fff" stroke-width="0.8" stroke-opacity="0.45"/>
<line x1="180.0" x2="259.30" y1="234.90" y2="234.90" stroke="#fff" stroke-width="0.8" stroke-opacity="0.45"/>
<line x1="180.0" x2="259.30" y1="222.70" y2="222.70" stroke="#fff" stroke-width="0.8" stroke-opacity="0.45"/>
<line x1="180.0" x2="259.30" y1="210.50" y2="210.50" stroke="#fff" stroke-width="0.8" stroke-opacity="0.45"/>
<line x1="180.0" x2="259.30" y1="198.30" y2="198.30" stroke="#fff" stroke-width="0.8" stroke-opacity="0.45"/>
<line x1="194.87" x2="194.87" y1="193.0" y2="300.5" stroke="#fff" stroke-width="1.0" stroke-opacity="0.55"/>
<line x1="219.65" x2="219.65" y1="193.0" y2="300.5" stroke="#fff" stroke-width="1.0" stroke-opacity="0.55"/>
<line x1="244.43" x2="244.43" y1="193.0" y2="300.5" stroke="#fff" stroke-width="1.0" stroke-opacity="0.55"/>
<rect x="182.82" y="216.10" width="12.05" height="80.70" fill="#fff"/>
<rect x="194.87" y="265.80" width="12.05" height="31.00" fill="#fff" fill-opacity="0.5"/>
<rect x="183.72" y="217.00" width="11.15" height="78.90" fill="#000"/>
<rect x="194.87" y="266.70" width="11.15" height="29.20" fill="#ACACAC"/>
<rect x="207.60" y="268.60" width="12.05" height="28.20" fill="#fff"/>
<rect x="219.65" y="270.20" width="12.05" height="26.60" fill="#fff" fill-opacity="0.5"/>
<rect x="208.50" y="269.50" width="11.15" height="26.40" fill="#000"/>
<rect x="219.65" y="271.10" width="11.15" height="24.80" fill="#ACACAC"/>
<rect x="232.38" y="268.90" width="12.05" height="27.90" fill="#fff"/>
<rect x="244.43" y="272.70" width="12.05" height="24.10" fill="#fff" fill-opacity="0.5"/>
<rect x="233.28" y="269.80" width="11.15" height="26.10" fill="#000"/>
<rect x="244.43" y="273.60" width="11.15" height="22.30" fill="#ACACAC"/>
<line x1="194.87" x2="194.87" y1="300.5" y2="301.90" stroke="#555" stroke-width="0.5"/>
<text x="194.87" y="307.40" font-size="6.25" fill="#444" stroke="#444" stroke-width="0.3" text-anchor="middle">Cal</text>
<line x1="219.65" x2="219.65" y1="300.5" y2="301.90" stroke="#555" stroke-width="0.5"/>
<text x="219.65" y="307.40" font-size="6.25" fill="#444" stroke="#444" stroke-width="0.3" text-anchor="middle">Lab</text>
<line x1="244.43" x2="244.43" y1="300.5" y2="301.90" stroke="#555" stroke-width="0.5"/>
<text x="244.43" y="307.40" font-size="6.25" fill="#444" stroke="#444" stroke-width="0.3" text-anchor="middle">On-line</text>
<rect x="263.8" y="185.0" width="79.3" height="8.0" fill="#D9D9D9"/>
<text x="303.45" y="191.05" font-size="6.0" font-weight="bold" fill="#1A1A1A" text-anchor="middle">(a) GBM</text>
<rect x="263.8" y="193.0" width="79.3" height="107.50" fill="#ECECEC"/>
<line x1="263.8" x2="343.10" y1="289.80" y2="289.80" stroke="#fff" stroke-width="0.6" stroke-opacity="0.25"/>
<line x1="263.8" x2="343.10" y1="277.60" y2="277.60" stroke="#fff" stroke-width="0.6" stroke-opacity="0.25"/>
<line x1="263.8" x2="343.10" y1="265.40" y2="265.40" stroke="#fff" stroke-width="0.6" stroke-opacity="0.25"/>
<line x1="263.8" x2="343.10" y1="253.20" y2="253.20" stroke="#fff" stroke-width="0.6" stroke-opacity="0.25"/>
<line x1="263.8" x2="343.10" y1="241.00" y2="241.00" stroke="#fff" stroke-width="0.6" stroke-opacity="0.25"/>
<line x1="263.8" x2="343.10" y1="228.80" y2="228.80" stroke="#fff" stroke-width="0.6" stroke-opacity="0.25"/>
<line x1="263.8" x2="343.10" y1="216.60" y2="216.60" stroke="#fff" stroke-width="0.6" stroke-opacity="0.25"/>
<line x1="263.8" x2="343.10" y1="204.40" y2="204.40" stroke="#fff" stroke-width="0.6" stroke-opacity="0.25"/>
<line x1="263.8" x2="343.10" y1="283.70" y2="283.70" stroke="#fff" stroke-width="0.8" stroke-opacity="0.45"/>
<line x1="263.8" x2="343.10" y1="271.50" y2="271.50" stroke="#fff" stroke-width="0.8" stroke-opacity="0.45"/>
<line x1="263.8" x2="343.10" y1="259.30" y2="259.30" stroke="#fff" stroke-width="0.8" stroke-opacity="0.45"/>
<line x1="263.8" x2="343.10" y1="247.10" y2="247.10" stroke="#fff" stroke-width="0.8" stroke-opacity="0.45"/>
<line x1="263.8" x2="343.10" y1="234.90" y2="234.90" stroke="#fff" stroke-width="0.8" stroke-opacity="0.45"/>
<line x1="263.8" x2="343.10" y1="222.70" y2="222.70" stroke="#fff" stroke-width="0.8" stroke-opacity="0.45"/>
<line x1="263.8" x2="343.10" y1="210.50" y2="210.50" stroke="#fff" stroke-width="0.8" stroke-opacity="0.45"/>
<line x1="263.8" x2="343.10" y1="198.30" y2="198.30" stroke="#fff" stroke-width="0.8" stroke-opacity="0.45"/>
<line x1="278.67" x2="278.67" y1="193.0" y2="300.5" stroke="#fff" stroke-width="1.0" stroke-opacity="0.55"/>
<line x1="303.45" x2="303.45" y1="193.0" y2="300.5" stroke="#fff" stroke-width="1.0" stroke-opacity="0.55"/>
<line x1="328.23" x2="328.23" y1="193.0" y2="300.5" stroke="#fff" stroke-width="1.0" stroke-opacity="0.55"/>
<rect x="266.62" y="215.80" width="12.05" height="81.00" fill="#fff"/>
<rect x="278.67" y="274.30" width="12.05" height="22.50" fill="#fff" fill-opacity="0.5"/>
<rect x="267.52" y="216.70" width="11.15" height="79.20" fill="#000"/>
<rect x="278.67" y="275.20" width="11.15" height="20.70" fill="#ACACAC"/>
<rect x="291.40" y="250.70" width="12.05" height="46.10" fill="#fff"/>
<rect x="303.45" y="275.30" width="12.05" height="21.50" fill="#fff" fill-opacity="0.5"/>
<rect x="292.30" y="251.60" width="11.15" height="44.30" fill="#000"/>
<rect x="303.45" y="276.20" width="11.15" height="19.70" fill="#ACACAC"/>
<rect x="316.18" y="258.90" width="12.05" height="37.90" fill="#fff"/>
<rect x="328.23" y="277.40" width="12.05" height="19.40" fill="#fff" fill-opacity="0.5"/>
<rect x="317.08" y="259.80" width="11.15" height="36.10" fill="#000"/>
<rect x="328.23" y="278.30" width="11.15" height="17.60" fill="#ACACAC"/>
<line x1="278.67" x2="278.67" y1="300.5" y2="301.90" stroke="#555" stroke-width="0.5"/>
<text x="278.67" y="307.40" font-size="6.25" fill="#444" stroke="#444" stroke-width="0.3" text-anchor="middle">Cal</text>
<line x1="303.45" x2="303.45" y1="300.5" y2="301.90" stroke="#555" stroke-width="0.5"/>
<text x="303.45" y="307.40" font-size="6.25" fill="#444" stroke="#444" stroke-width="0.3" text-anchor="middle">Lab</text>
<line x1="328.23" x2="328.23" y1="300.5" y2="301.90" stroke="#555" stroke-width="0.5"/>
<text x="328.23" y="307.40" font-size="6.25" fill="#444" stroke="#444" stroke-width="0.3" text-anchor="middle">On-line</text>
<rect x="345.3" y="185.0" width="79.3" height="8.0" fill="#D9D9D9"/>
<text x="384.95" y="191.05" font-size="6.0" font-weight="bold" fill="#1A1A1A" text-anchor="middle">(b) ANN</text>
<rect x="345.3" y="193.0" width="79.3" height="107.50" fill="#ECECEC"/>
<line x1="345.3" x2="424.60" y1="289.80" y2="289.80" stroke="#fff" stroke-width="0.6" stroke-opacity="0.25"/>
<line x1="345.3" x2="424.60" y1="277.60" y2="277.60" stroke="#fff" stroke-width="0.6" stroke-opacity="0.25"/>
<line x1="345.3" x2="424.60" y1="265.40" y2="265.40" stroke="#fff" stroke-width="0.6" stroke-opacity="0.25"/>
<line x1="345.3" x2="424.60" y1="253.20" y2="253.20" stroke="#fff" stroke-width="0.6" stroke-opacity="0.25"/>
<line x1="345.3" x2="424.60" y1="241.00" y2="241.00" stroke="#fff" stroke-width="0.6" stroke-opacity="0.25"/>
<line x1="345.3" x2="424.60" y1="228.80" y2="228.80" stroke="#fff" stroke-width="0.6" stroke-opacity="0.25"/>
<line x1="345.3" x2="424.60" y1="216.60" y2="216.60" stroke="#fff" stroke-width="0.6" stroke-opacity="0.25"/>
<line x1="345.3" x2="424.60" y1="204.40" y2="204.40" stroke="#fff" stroke-width="0.6" stroke-opacity="0.25"/>
<line x1="345.3" x2="424.60" y1="283.70" y2="283.70" stroke="#fff" stroke-width="0.8" stroke-opacity="0.45"/>
<line x1="345.3" x2="424.60" y1="271.50" y2="271.50" stroke="#fff" stroke-width="0.8" stroke-opacity="0.45"/>
<line x1="345.3" x2="424.60" y1="259.30" y2="259.30" stroke="#fff" stroke-width="0.8" stroke-opacity="0.45"/>
<line x1="345.3" x2="424.60" y1="247.10" y2="247.10" stroke="#fff" stroke-width="0.8" stroke-opacity="0.45"/>
<line x1="345.3" x2="424.60" y1="234.90" y2="234.90" stroke="#fff" stroke-width="0.8" stroke-opacity="0.45"/>
<line x1="345.3" x2="424.60" y1="222.70" y2="222.70" stroke="#fff" stroke-width="0.8" stroke-opacity="0.45"/>
<line x1="345.3" x2="424.60" y1="210.50" y2="210.50" stroke="#fff" stroke-width="0.8" stroke-opacity="0.45"/>
<line x1="345.3" x2="424.60" y1="198.30" y2="198.30" stroke="#fff" stroke-width="0.8" stroke-opacity="0.45"/>
<line x1="360.17" x2="360.17" y1="193.0" y2="300.5" stroke="#fff" stroke-width="1.0" stroke-opacity="0.55"/>
<line x1="384.95" x2="384.95" y1="193.0" y2="300.5" stroke="#fff" stroke-width="1.0" stroke-opacity="0.55"/>
<line x1="409.73" x2="409.73" y1="193.0" y2="300.5" stroke="#fff" stroke-width="1.0" stroke-opacity="0.55"/>
<rect x="348.12" y="261.20" width="12.05" height="35.60" fill="#fff"/>
<rect x="360.17" y="272.70" width="12.05" height="24.10" fill="#fff" fill-opacity="0.5"/>
<rect x="349.02" y="262.10" width="11.15" height="33.80" fill="#000"/>
<rect x="360.17" y="273.60" width="11.15" height="22.30" fill="#ACACAC"/>
<rect x="372.90" y="263.50" width="12.05" height="33.30" fill="#fff"/>
<rect x="384.95" y="278.10" width="12.05" height="18.70" fill="#fff" fill-opacity="0.5"/>
<rect x="373.80" y="264.40" width="11.15" height="31.50" fill="#000"/>
<rect x="384.95" y="279.00" width="11.15" height="16.90" fill="#ACACAC"/>
<rect x="397.68" y="263.00" width="12.05" height="33.80" fill="#fff"/>
<rect x="409.73" y="270.90" width="12.05" height="25.90" fill="#fff" fill-opacity="0.5"/>
<rect x="398.58" y="263.90" width="11.15" height="32.00" fill="#000"/>
<rect x="409.73" y="271.80" width="11.15" height="24.10" fill="#ACACAC"/>
<line x1="360.17" x2="360.17" y1="300.5" y2="301.90" stroke="#555" stroke-width="0.5"/>
<text x="360.17" y="307.40" font-size="6.25" fill="#444" stroke="#444" stroke-width="0.3" text-anchor="middle">Cal</text>
<line x1="384.95" x2="384.95" y1="300.5" y2="301.90" stroke="#555" stroke-width="0.5"/>
<text x="384.95" y="307.40" font-size="6.25" fill="#444" stroke="#444" stroke-width="0.3" text-anchor="middle">Lab</text>
<line x1="409.73" x2="409.73" y1="300.5" y2="301.90" stroke="#555" stroke-width="0.5"/>
<text x="409.73" y="307.40" font-size="6.25" fill="#444" stroke="#444" stroke-width="0.3" text-anchor="middle">On-line</text>
<rect x="426.4" y="185.0" width="79.3" height="8.0" fill="#D9D9D9"/>
<text x="466.05" y="191.05" font-size="6.0" font-weight="bold" fill="#1A1A1A" text-anchor="middle">(c) RF</text>
<rect x="426.4" y="193.0" width="79.3" height="107.50" fill="#ECECEC"/>
<line x1="426.4" x2="505.70" y1="289.80" y2="289.80" stroke="#fff" stroke-width="0.6" stroke-opacity="0.25"/>
<line x1="426.4" x2="505.70" y1="277.60" y2="277.60" stroke="#fff" stroke-width="0.6" stroke-opacity="0.25"/>
<line x1="426.4" x2="505.70" y1="265.40" y2="265.40" stroke="#fff" stroke-width="0.6" stroke-opacity="0.25"/>
<line x1="426.4" x2="505.70" y1="253.20" y2="253.20" stroke="#fff" stroke-width="0.6" stroke-opacity="0.25"/>
<line x1="426.4" x2="505.70" y1="241.00" y2="241.00" stroke="#fff" stroke-width="0.6" stroke-opacity="0.25"/>
<line x1="426.4" x2="505.70" y1="228.80" y2="228.80" stroke="#fff" stroke-width="0.6" stroke-opacity="0.25"/>
<line x1="426.4" x2="505.70" y1="216.60" y2="216.60" stroke="#fff" stroke-width="0.6" stroke-opacity="0.25"/>
<line x1="426.4" x2="505.70" y1="204.40" y2="204.40" stroke="#fff" stroke-width="0.6" stroke-opacity="0.25"/>
<line x1="426.4" x2="505.70" y1="283.70" y2="283.70" stroke="#fff" stroke-width="0.8" stroke-opacity="0.45"/>
<line x1="426.4" x2="505.70" y1="271.50" y2="271.50" stroke="#fff" stroke-width="0.8" stroke-opacity="0.45"/>
<line x1="426.4" x2="505.70" y1="259.30" y2="259.30" stroke="#fff" stroke-width="0.8" stroke-opacity="0.45"/>
<line x1="426.4" x2="505.70" y1="247.10" y2="247.10" stroke="#fff" stroke-width="0.8" stroke-opacity="0.45"/>
<line x1="426.4" x2="505.70" y1="234.90" y2="234.90" stroke="#fff" stroke-width="0.8" stroke-opacity="0.45"/>
<line x1="426.4" x2="505.70" y1="222.70" y2="222.70" stroke="#fff" stroke-width="0.8" stroke-opacity="0.45"/>
<line x1="426.4" x2="505.70" y1="210.50" y2="210.50" stroke="#fff" stroke-width="0.8" stroke-opacity="0.45"/>
<line x1="426.4" x2="505.70" y1="198.30" y2="198.30" stroke="#fff" stroke-width="0.8" stroke-opacity="0.45"/>
<line x1="441.27" x2="441.27" y1="193.0" y2="300.5" stroke="#fff" stroke-width="1.0" stroke-opacity="0.55"/>
<line x1="466.05" x2="466.05" y1="193.0" y2="300.5" stroke="#fff" stroke-width="1.0" stroke-opacity="0.55"/>
<line x1="490.83" x2="490.83" y1="193.0" y2="300.5" stroke="#fff" stroke-width="1.0" stroke-opacity="0.55"/>
<rect x="429.22" y="203.10" width="12.05" height="93.70" fill="#fff"/>
<rect x="441.27" y="264.30" width="12.05" height="32.50" fill="#fff" fill-opacity="0.5"/>
<rect x="430.12" y="204.00" width="11.15" height="91.90" fill="#000"/>
<rect x="441.27" y="265.20" width="11.15" height="30.70" fill="#ACACAC"/>
<rect x="454.00" y="252.20" width="12.05" height="44.60" fill="#fff"/>
<rect x="466.05" y="266.30" width="12.05" height="30.50" fill="#fff" fill-opacity="0.5"/>
<rect x="454.90" y="253.10" width="11.15" height="42.80" fill="#000"/>
<rect x="466.05" y="267.20" width="11.15" height="28.70" fill="#ACACAC"/>
<rect x="478.78" y="255.30" width="12.05" height="41.50" fill="#fff"/>
<rect x="490.83" y="269.20" width="12.05" height="27.60" fill="#fff" fill-opacity="0.5"/>
<rect x="479.68" y="256.20" width="11.15" height="39.70" fill="#000"/>
<rect x="490.83" y="270.10" width="11.15" height="25.80" fill="#ACACAC"/>
<line x1="441.27" x2="441.27" y1="300.5" y2="301.90" stroke="#555" stroke-width="0.5"/>
<text x="441.27" y="307.40" font-size="6.25" fill="#444" stroke="#444" stroke-width="0.3" text-anchor="middle">Cal</text>
<line x1="466.05" x2="466.05" y1="300.5" y2="301.90" stroke="#555" stroke-width="0.5"/>
<text x="466.05" y="307.40" font-size="6.25" fill="#444" stroke="#444" stroke-width="0.3" text-anchor="middle">Lab</text>
<line x1="490.83" x2="490.83" y1="300.5" y2="301.90" stroke="#555" stroke-width="0.5"/>
<text x="490.83" y="307.40" font-size="6.25" fill="#444" stroke="#444" stroke-width="0.3" text-anchor="middle">On-line</text>
<line x1="15.9" x2="17.5" y1="283.70" y2="283.70" stroke="#333" stroke-width="0.7"/>
<text x="15.40" y="285.95" font-size="6.3" fill="#444" stroke="#444" stroke-width="0.25" text-anchor="end">1</text>
<line x1="15.9" x2="17.5" y1="271.50" y2="271.50" stroke="#333" stroke-width="0.7"/>
<text x="15.40" y="273.75" font-size="6.3" fill="#444" stroke="#444" stroke-width="0.25" text-anchor="end">2</text>
<line x1="15.9" x2="17.5" y1="259.30" y2="259.30" stroke="#333" stroke-width="0.7"/>
<text x="15.40" y="261.55" font-size="6.3" fill="#444" stroke="#444" stroke-width="0.25" text-anchor="end">3</text>
<line x1="15.9" x2="17.5" y1="247.10" y2="247.10" stroke="#333" stroke-width="0.7"/>
<text x="15.40" y="249.35" font-size="6.3" fill="#444" stroke="#444" stroke-width="0.25" text-anchor="end">4</text>
<line x1="15.9" x2="17.5" y1="234.90" y2="234.90" stroke="#333" stroke-width="0.7"/>
<text x="15.40" y="237.15" font-size="6.3" fill="#444" stroke="#444" stroke-width="0.25" text-anchor="end">5</text>
<line x1="15.9" x2="17.5" y1="222.70" y2="222.70" stroke="#333" stroke-width="0.7"/>
<text x="15.40" y="224.95" font-size="6.3" fill="#444" stroke="#444" stroke-width="0.25" text-anchor="end">6</text>
<line x1="15.9" x2="17.5" y1="210.50" y2="210.50" stroke="#333" stroke-width="0.7"/>
<text x="15.40" y="212.75" font-size="6.3" fill="#444" stroke="#444" stroke-width="0.25" text-anchor="end">7</text>
<line x1="15.9" x2="17.5" y1="198.30" y2="198.30" stroke="#333" stroke-width="0.7"/>
<text x="15.40" y="200.55" font-size="6.3" fill="#444" stroke="#444" stroke-width="0.25" text-anchor="end">8</text>
<text transform="translate(10.4,247.20) rotate(-90)" font-size="7.6" font-weight="bold" fill="#000" text-anchor="middle">RPD</text>
<text x="512.80" y="242.50" font-size="7.2" font-weight="bold" fill="#000">Dataset</text>
<rect x="512.70" y="244.50" width="5.6" height="5.7" fill="#000"/>
<rect x="512.70" y="251.10" width="5.6" height="5.8" fill="#ACACAC"/>
<text x="519.70" y="250.00" font-size="6.2" fill="#111" stroke="#111" stroke-width="0.25">European</text>
<text x="519.70" y="256.10" font-size="6.2" fill="#111" stroke="#111" stroke-width="0.25">Local</text>
<text x="253.7" y="11.8" font-size="9.6" font-weight="bold" fill="#000" stroke="#000" stroke-width="0.15" text-anchor="middle">(A) TN</text>
<text x="268.6" y="171.1" font-size="9.1" font-weight="bold" fill="#000" stroke="#000" stroke-width="0.25" text-anchor="middle">(B) TC</text>
<text x="136.6" y="26.5" font-size="9.5" font-weight="bold" fill="#000" stroke="#000" stroke-width="0.25" text-anchor="middle">Hessleskew</text>
<text x="367.0" y="27" font-size="9.5" font-weight="bold" fill="#000" stroke="#000" stroke-width="0.25" text-anchor="middle" textLength="22.6" lengthAdjust="spacingAndGlyphs">Hagg</text>
<text x="148.5" y="178.8" font-size="9.5" font-weight="bold" fill="#000" stroke="#000" stroke-width="0.25" text-anchor="middle">Hessleskew</text>
<text x="385.4" y="178.6" font-size="9.5" font-weight="bold" fill="#000" stroke="#000" stroke-width="0.25" text-anchor="middle" textLength="23.4" lengthAdjust="spacingAndGlyphs">Hagg</text>
</g>
</svg></body></html>
